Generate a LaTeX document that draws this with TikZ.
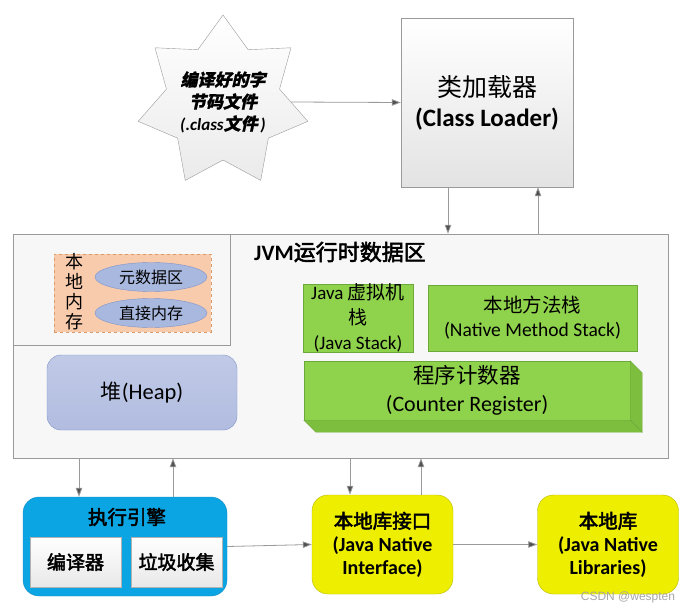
\documentclass[tikz,border=0pt]{standalone}
\usepackage{fontspec}
\setmainfont{Carlito}
\newfontfamily\cjk{Noto Sans CJK SC}[AutoFakeBold=2.5]
\newfontfamily\cjkslant{Noto Sans CJK SC}[FakeSlant=0.22,FakeBold=1]
\newfontfamily\wmfont{Liberation Sans}
\usetikzlibrary{arrows.meta,shapes.geometric}

\definecolor{linegray}{HTML}{9A9A9A}
\definecolor{arrowgray}{HTML}{505050}
\definecolor{areafill}{HTML}{F7F7F7}
\definecolor{peach}{HTML}{F8CBAD}
\definecolor{peachline}{HTML}{D99A6C}
\definecolor{lavender}{HTML}{A9B8DE}
\definecolor{lavline}{HTML}{8094C8}
\definecolor{heapfill}{HTML}{B1BCE0}
\definecolor{grassgreen}{HTML}{8FD24C}
\definecolor{grassline}{HTML}{6CA83A}
\definecolor{grassdark}{HTML}{7DBE3E}
\definecolor{skyblue}{HTML}{0AA5E2}
\definecolor{skyline}{HTML}{1A8CC4}
\definecolor{lemon}{HTML}{EEEE00}
\definecolor{lemonline}{HTML}{B8B800}

\begin{document}
\begin{tikzpicture}[x=1pt, y=-1pt,
    arr/.style={draw=linegray, line width=0.8pt, -{Triangle[length=9pt, width=6.5pt, fill=arrowgray]}},
    graybox/.style={draw=linegray, top color=white, bottom color=gray!22, align=center, inner sep=0},
    greenbox/.style={draw=grassline, fill=grassgreen, align=center, inner sep=0},
    yellowbox/.style={draw=lemonline, fill=lemon, rounded corners=16, align=center, inner sep=0,
        minimum width=141, minimum height=99, font={\bfseries\fontsize{20}{23}\selectfont}},
    oval/.style={ellipse, draw=lavline, fill=lavender, minimum width=112, minimum height=29, inner sep=0,
        font={\cjk\fontsize{16}{18}\selectfont}},
    subbox/.style={draw=gray!60, top color=white, bottom color=gray!18, minimum width=91, minimum height=50,
        inner sep=0, font={\cjk\bfseries\fontsize{19}{22}\selectfont}}]
  \useasboundingbox (0,0) rectangle (692,612);

  % compiled class files and the class loader
  \node[star, star points=7, star point ratio=1.5, minimum size=174, inner sep=0,
        draw=linegray, top color=white, bottom color=gray!16] (bytecode) at (223,102) {};
  \node[align=center, font={\bfseries\itshape\fontsize{17}{22}\selectfont}] (bytecodetext) at (bytecode)
        {{\cjkslant 编译好的字}\\{\cjkslant 节码文件}\\(.class{\cjkslant 文件}\,)};
  \node[graybox, minimum width=172, minimum height=169, font={\fontsize{25}{30}\selectfont}] (loader) at (487,102.5)
        {{\cjk 类加载器}\\{\bfseries (Class Loader)}};

  % runtime data area
  \node[draw=linegray, fill=areafill, minimum width=655, minimum height=224, inner sep=0] (jvm) at (340.5,346) {};
  \coordinate (split) at (230,345);
  \draw[linegray] (jvm.west |- split) -- (split) -- (split |- jvm.north);
  \node[font={\bfseries\fontsize{22}{24}\selectfont}] (jvmtitle) at (340,252) {JVM{\cjk 运行时数据区}};

  \node[draw=peachline, dashed, fill=peach, minimum width=157, minimum height=78, inner sep=0] (natmem) at (132.5,293) {};
  \node[align=center, font={\cjk\fontsize{18}{20}\selectfont}] (natmemlabel) at (74,292) {本\\地\\内\\存};
  \node[oval] (meta) at (151,277) {元数据区};
  \node[oval] (direct) at (151,313) {直接内存};

  \node[greenbox, minimum width=110, minimum height=66, font={\fontsize{19}{25}\selectfont}] (javastack) at (358,318)
        {Java {\cjk 虚拟机}\\{\cjk 栈}\\(Java Stack)};
  \node[greenbox, minimum width=209, minimum height=66, font={\fontsize{19.5}{24}\selectfont}] (nativestack) at (532.5,318)
        {{\cjk 本地方法栈}\\(Native Method Stack)};
  \node[greenbox, minimum width=326, minimum height=59, font={\fontsize{22}{28}\selectfont}] (counter) at (467,390.5)
        {{\cjk\fontsize{21.5}{28}\selectfont 程序计数器}\\(Counter Register)};
  \filldraw[draw=grassline, fill=grassdark] (counter.north east) -- ++(12,12) -- ([shift={(12,12)}]counter.south east)
        -- (counter.south east) -- cycle;
  \filldraw[draw=grassline, fill=grassdark] (counter.south west) -- ++(12,12) -- ([shift={(12,12)}]counter.south east)
        -- (counter.south east) -- cycle;

  \node[draw=lavline, top color=heapfill!80, bottom color=heapfill, rounded corners=14, minimum width=190,
        minimum height=75, inner sep=0, font={\fontsize{22.5}{24}\selectfont}] (heap) at (142,392.5)
        {{\cjk\fontsize{21}{24}\selectfont 堆}(Heap)};

  % execution engine and native side
  \node[draw=skyline, fill=skyblue, rounded corners=16, minimum width=204, minimum height=99, inner sep=0] (engine) at (125,546.5) {};
  \node[font={\cjk\bfseries\fontsize{19.5}{22}\selectfont}] (enginelabel) at (127,517) {执行引擎};
  \node[subbox] (compiler) at (75.5,562) {编译器};
  \node[subbox] (gc) at (176.5,562) {垃圾收集};

  \node[yellowbox] (jni) at (382.5,544.5) {{\cjk\fontsize{19.5}{23}\selectfont 本地库接口}\\(Java Native\\Interface)};
  \node[yellowbox] (natlib) at (608,544.5) {{\cjk\fontsize{19.5}{23}\selectfont 本地库}\\(Java Native\\Libraries)};

  % connectors
  \draw[arr] (bytecode.east) -- (loader.west);
  \draw[arr] ([xshift=-39]loader.south) -- ([xshift=-39]loader.south |- jvm.north);
  \draw[arr] ([xshift=51]loader.south |- jvm.north) -- ([xshift=51]loader.south);
  \draw[arr] ([xshift=-46]engine.north |- jvm.south) -- ([xshift=-46]engine.north);
  \draw[arr] ([xshift=48]engine.north) -- ([xshift=48]engine.north |- jvm.south);
  \draw[arr] ([xshift=-32.5]jni.north |- jvm.south) -- ([xshift=-32.5]jni.north);
  \draw[arr] ([xshift=38.5]jni.north) -- ([xshift=38.5]jni.north |- jvm.south);
  \draw[arr] (engine.east) -- (jni.west);
  \draw[arr] (jni.east) -- (natlib.west);

  \node[text=gray!70, font={\wmfont\fontsize{12}{14}\selectfont}] (watermark) at (628,597) {CSDN @wespten};
\end{tikzpicture}
\end{document}
